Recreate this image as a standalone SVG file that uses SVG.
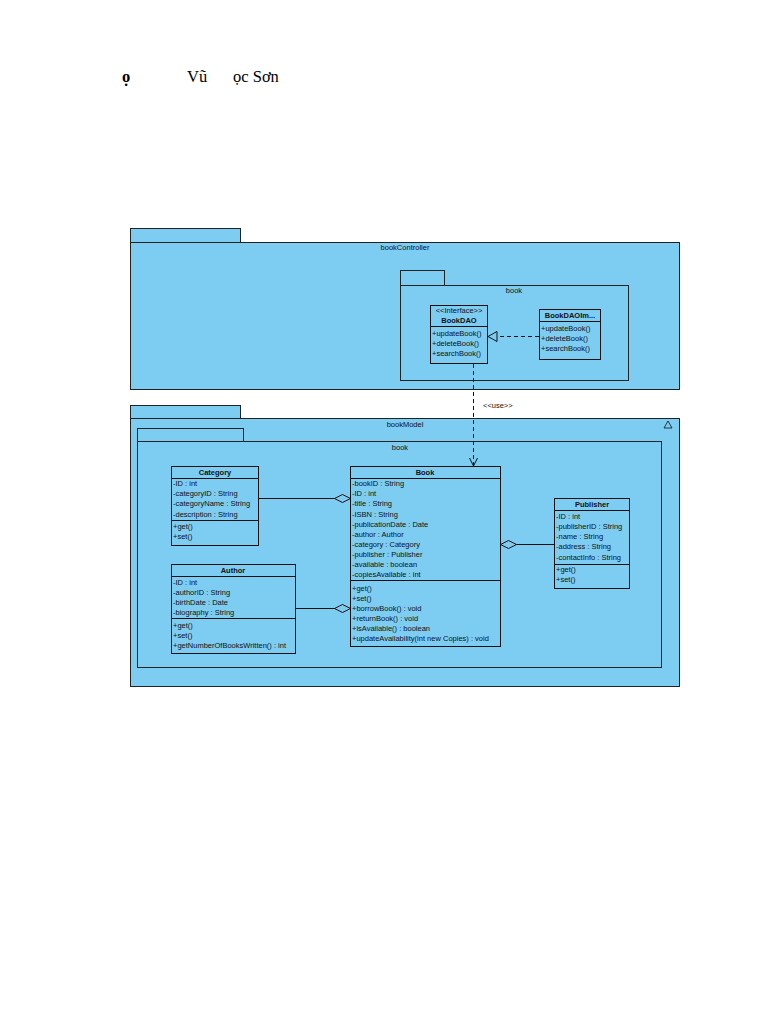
<svg xmlns="http://www.w3.org/2000/svg" width="768" height="1024" viewBox="0 0 768 1024">
<style>
.pk{fill:#7dcdf3;stroke:#222;stroke-width:1}
.cl{fill:#7dcdf3;stroke:#111;stroke-width:1}
.t{font-family:"Liberation Sans",Arial,sans-serif;font-size:7.5px;fill:#111}
.h{font-family:"Liberation Sans",Arial,sans-serif;font-size:7.5px;font-weight:bold;fill:#111}
.c{text-anchor:middle}
.ln{stroke:#111;stroke-width:1;fill:none}
.dl{stroke:#111;stroke-width:1;fill:none;stroke-dasharray:4,3}
</style>
<defs>
<marker id="open" markerWidth="10" markerHeight="10" refX="9" refY="5" orient="auto" markerUnits="userSpaceOnUse"><path d="M1,1 L9,5 L1,9" fill="none" stroke="#111" stroke-width="1"/></marker>
<marker id="tri" markerWidth="12" markerHeight="12" refX="10" refY="6" orient="auto" markerUnits="userSpaceOnUse"><path d="M1,1 L10,6 L1,11 Z" fill="#7dcdf3" stroke="#111" stroke-width="1"/></marker>
<marker id="dia" markerWidth="18" markerHeight="10" refX="17" refY="5" orient="auto" markerUnits="userSpaceOnUse"><path d="M1,5 L9,1 L17,5 L9,9 Z" fill="#7dcdf3" stroke="#111" stroke-width="1"/></marker>
</defs>
<g id="title" font-family="'Liberation Serif','Times New Roman',serif" font-size="16.5" fill="#000">
<text x="122" y="82" font-weight="bold">ọ</text>
<text x="187" y="82">Vũ</text>
<text x="233" y="82">ọc Sơn</text>
</g>
<g id="pkg-bookController">
<rect class="pk" x="130.5" y="228.5" width="110" height="14"/>
<rect class="pk" x="130.5" y="242.5" width="549" height="147"/>
<text class="t c" x="405" y="250">bookController</text>
</g>
<g id="pkg-controller-book">
<rect class="pk" x="400.5" y="270.5" width="44" height="15"/>
<rect class="pk" x="400.5" y="285.5" width="228" height="95"/>
<text class="t c" x="514" y="293">book</text>
</g>
<g id="pkg-bookModel">
<rect class="pk" x="130.5" y="405.5" width="110" height="13"/>
<rect class="pk" x="130.5" y="418.5" width="549" height="268"/>
<text class="t c" x="405" y="427">bookModel</text>
<path d="M664,428 L668,421 L672,428 Z" fill="none" stroke="#111" stroke-width="0.8"/>
</g>
<g id="pkg-model-book">
<rect class="pk" x="137.5" y="428.5" width="106" height="13"/>
<rect class="pk" x="137.5" y="441.5" width="524" height="226"/>
<text class="t c" x="400" y="450">book</text>
</g>
<g id="BookDAO">
<rect class="cl" x="430.5" y="305.5" width="57" height="58"/>
<text class="t c" x="459" y="313">&lt;&lt;Interface&gt;&gt;</text>
<text class="h c" x="459" y="323">BookDAO</text>
<line class="ln" x1="430.5" y1="326.5" x2="487.5" y2="326.5"/>
<text class="t" x="432" y="336">+updateBook()</text>
<text class="t" x="432" y="346">+deleteBook()</text>
<text class="t" x="432" y="356">+searchBook()</text>
</g>
<g id="BookDAOImpl">
<rect class="cl" x="539.5" y="309.5" width="61" height="50"/>
<text class="h c" x="570" y="318">BookDAOIm...</text>
<line class="ln" x1="539.5" y1="321.5" x2="600.5" y2="321.5"/>
<text class="t" x="541" y="331">+updateBook()</text>
<text class="t" x="541" y="341">+deleteBook()</text>
<text class="t" x="541" y="351">+searchBook()</text>
</g>
<g id="Category">
<rect class="cl" x="171.5" y="466.5" width="87" height="79"/>
<text class="h c" x="215" y="475">Category</text>
<line class="ln" x1="171.5" y1="478.5" x2="258.5" y2="478.5"/>
<text class="t" x="173" y="486">-ID : int</text>
<text class="t" x="173" y="496">-categoryID : String</text>
<text class="t" x="173" y="506">-categoryName : String</text>
<text class="t" x="173" y="517">-description : String</text>
<line class="ln" x1="171.5" y1="520.5" x2="258.5" y2="520.5"/>
<text class="t" x="173" y="529">+get()</text>
<text class="t" x="173" y="539">+set()</text>
</g>
<g id="Author">
<rect class="cl" x="171.5" y="564.5" width="124" height="89"/>
<text class="h c" x="233" y="573">Author</text>
<line class="ln" x1="171.5" y1="576.5" x2="295.5" y2="576.5"/>
<text class="t" x="173" y="585">-ID : int</text>
<text class="t" x="173" y="595">-authorID : String</text>
<text class="t" x="173" y="605">-birthDate : Date</text>
<text class="t" x="173" y="615">-biography : String</text>
<line class="ln" x1="171.5" y1="618.5" x2="295.5" y2="618.5"/>
<text class="t" x="173" y="628">+get()</text>
<text class="t" x="173" y="638">+set()</text>
<text class="t" x="173" y="648">+getNumberOfBooksWritten() : int</text>
</g>
<g id="Book">
<rect class="cl" x="350.5" y="466.5" width="150" height="180"/>
<text class="h c" x="425" y="475">Book</text>
<line class="ln" x1="350.5" y1="478.5" x2="500.5" y2="478.5"/>
<text class="t" x="352" y="486">-bookID : String</text>
<text class="t" x="352" y="496">-ID : int</text>
<text class="t" x="352" y="506">-title : String</text>
<text class="t" x="352" y="517">-ISBN : String</text>
<text class="t" x="352" y="527">-publicationDate : Date</text>
<text class="t" x="352" y="537">-author : Author</text>
<text class="t" x="352" y="547">-category : Category</text>
<text class="t" x="352" y="557">-publisher : Publisher</text>
<text class="t" x="352" y="567">-available : boolean</text>
<text class="t" x="352" y="577">-copiesAvailable : int</text>
<line class="ln" x1="350.5" y1="580.5" x2="500.5" y2="580.5"/>
<text class="t" x="352" y="591">+get()</text>
<text class="t" x="352" y="601">+set()</text>
<text class="t" x="352" y="611">+borrowBook() : void</text>
<text class="t" x="352" y="621">+returnBook() : void</text>
<text class="t" x="352" y="631">+isAvailable() : boolean</text>
<text class="t" x="352" y="641">+updateAvailability(int new Copies) : void</text>
</g>
<g id="Publisher">
<rect class="cl" x="554.5" y="498.5" width="75" height="90"/>
<text class="h c" x="592" y="507">Publisher</text>
<line class="ln" x1="554.5" y1="510.5" x2="629.5" y2="510.5"/>
<text class="t" x="556" y="519">-ID : int</text>
<text class="t" x="556" y="529">-publisherID : String</text>
<text class="t" x="556" y="539">-name : String</text>
<text class="t" x="556" y="549">-address : String</text>
<text class="t" x="556" y="560">-contactInfo : String</text>
<line class="ln" x1="554.5" y1="564.5" x2="629.5" y2="564.5"/>
<text class="t" x="556" y="572">+get()</text>
<text class="t" x="556" y="582">+set()</text>
</g>
<g id="connectors">
<line class="dl" x1="539" y1="336.5" x2="488" y2="336.5" marker-end="url(#tri)"/>
<line class="dl" x1="473.5" y1="364" x2="473.5" y2="466" marker-end="url(#open)"/>
<text class="t" x="483" y="408">&lt;&lt;use&gt;&gt;</text>
<line class="ln" x1="258.5" y1="498.5" x2="350.5" y2="498.5" marker-end="url(#dia)"/>
<line class="ln" x1="295.5" y1="608.5" x2="350.5" y2="608.5" marker-end="url(#dia)"/>
<line class="ln" x1="554.5" y1="544.5" x2="500.5" y2="544.5" marker-end="url(#dia)"/>
</g>
</svg>
